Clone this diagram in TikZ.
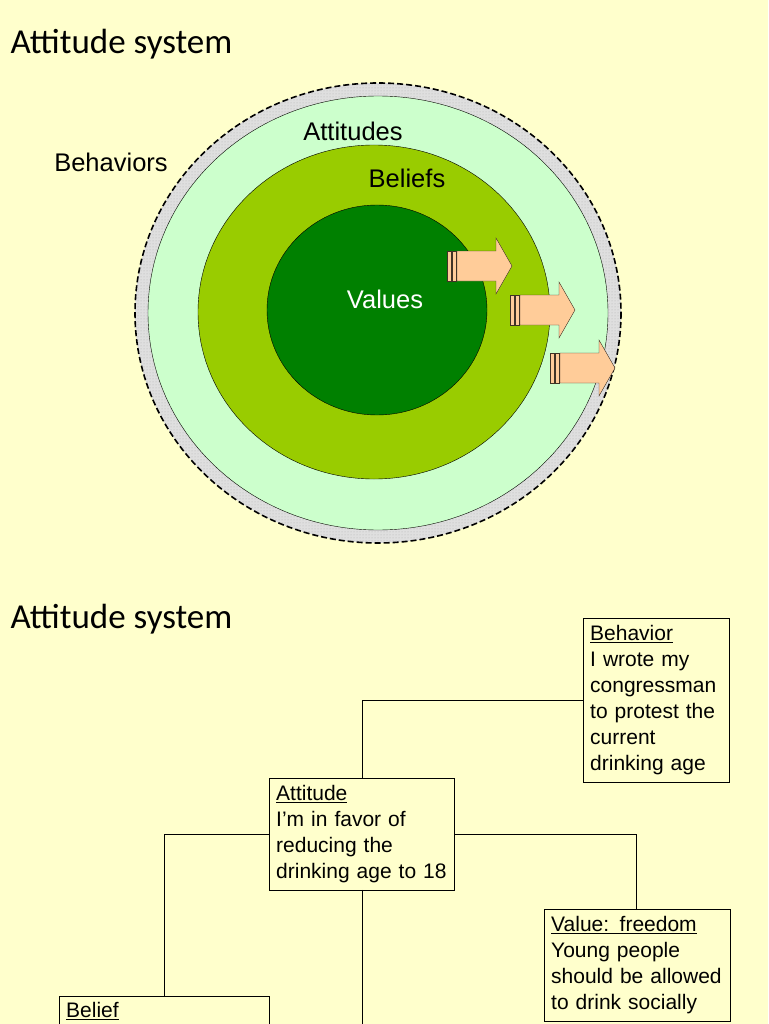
\documentclass[tikz,border=0pt]{standalone}
\usepackage{fontspec}
\setmainfont{Liberation Sans}
\newfontfamily\titlefont{Carlito}
\usetikzlibrary{patterns}
\definecolor{bg}{HTML}{FFFFCC}
\definecolor{att}{HTML}{CCFFCC}
\definecolor{bel}{HTML}{99CC00}
\definecolor{val}{HTML}{008000}
\definecolor{arr}{HTML}{FFCC99}
\begin{document}
\begin{tikzpicture}[x=1pt,y=-1pt,
  title/.style={anchor=west,font=\titlefont\fontsize{35}{35}\selectfont},
  lab/.style={font=\fontsize{25.5}{25.5}\selectfont},
  box/.style={draw,thin,fill=bg,anchor=north west,align=left,inner sep=7pt,font=\fontsize{21}{26}\selectfont},
  arrline/.style={draw=black!75!arr,fill=arr}]
\fill[bg] (0,0) rectangle (768,1024);
\useasboundingbox (0,0) rectangle (768,1024);
\node[title] (t1) at (7,44) {Attitude system};
\node[title] (t2) at (7,619) {Attitude system};
% circles
\fill[gray!25,even odd rule] (378,313) ellipse [x radius=243,y radius=230] (378,313) ellipse [x radius=230,y radius=217];
\fill[pattern=dots,pattern color=gray!60,even odd rule] (378,313) ellipse [x radius=243,y radius=230] (378,313) ellipse [x radius=230,y radius=217];
\draw[line width=1.6pt,dash pattern=on 6pt off 3pt] (378,313) ellipse [x radius=243,y radius=230];
\draw[fill=att] (378,313) ellipse [x radius=230,y radius=217];
\draw[fill=bel] (374,312) ellipse [x radius=176,y radius=167];
\draw[fill=val] (377,310) ellipse [x radius=110,y radius=105];
\node[lab] (lb) at (111,162) {Behaviors};
\node[lab] (la) at (353,131) {Attitudes};
\node[lab] (lbe) at (407,178) {Beliefs};
\node[lab,text=white] (lv) at (385,299) {Values};
% arrows
\foreach \x/\y in {457/266,520/310,560/368}{
  \draw[arrline] (\x-10,\y-15) rectangle (\x-6,\y+15);
  \draw[arrline] (\x-5,\y-15) rectangle (\x-1,\y+15);
  \draw[arrline] (\x,\y-15) -- (\x+39,\y-15) -- (\x+39,\y-28) -- (\x+55,\y) -- (\x+39,\y+28) -- (\x+39,\y+15) -- (\x,\y+15) -- cycle;
}
% boxes
\node[box,text width=132pt] (beh) at (583,618) {\underline{Behavior}\\I wrote my\\congressman\\to protest the\\current\\drinking age};
\node[box,text width=171pt] (atd) at (269,778) {\underline{Attitude}\\I’m in favor of\\reducing the\\drinking age to 18};
\node[box,text width=172pt] (vf) at (544,909) {\underline{Value: freedom}\\Young people\\should be allowed\\to drink socially};
\node[box,text width=196pt,minimum height=60pt] (blf) at (59,996) {};
\node[anchor=north west,inner sep=0pt,font=\fontsize{21}{26}\selectfont] (blt) at (66,1002) {\underline{Belief}};
\coordinate (bot) at (362,1024);
\draw (beh.west |- 0,700) -| (atd.north -| 362,0);
\draw (atd.west |- 0,834) -| (blf.north -| 164,0);
\draw (atd.east |- 0,834) -| (vf.north -| 636,0);
\draw (atd.south -| 362,0) -- (bot);
\end{tikzpicture}
\end{document}
